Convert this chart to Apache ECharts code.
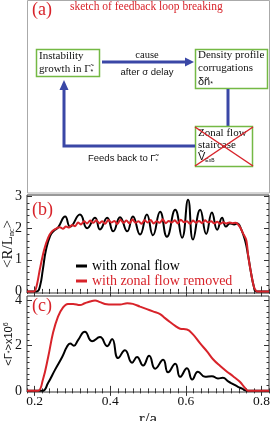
<!DOCTYPE html>
<html><head><meta charset="utf-8">
<script src="https://cdn.jsdelivr.net/npm/echarts@6/dist/echarts.min.js"></script>
<style>html,body{margin:0;padding:0;background:#fff}#c{width:271px;height:421px}</style>
</head><body><div id="c"></div>
<script>
// ---- data ----
const rBlackB = [0.180,0.206,0.214,0.222,0.230,0.241,0.251,0.262,0.281,0.294,0.320,0.339,0.360,0.373,0.392,0.408,0.426,0.445,0.460,0.479,0.497,0.513,0.532,0.550,0.572,0.590,0.606,0.619,0.638,0.654,0.669,0.683,0.696,0.706,0.717,0.728,0.736,0.746,0.757,0.765,0.772,0.780,0.786,0.820];
const vBlackB = [0,0,0.15,0.70,1.30,1.75,1.92,2.02,2.37,2.05,2.43,2.00,2.33,1.96,2.33,1.90,2.35,1.90,2.37,1.80,2.43,1.78,2.52,1.73,2.58,1.70,2.90,1.64,2.58,1.82,2.50,1.95,2.33,2.05,2.15,2.12,2.15,1.98,1.60,1.12,0.62,0.15,0,0];
const rRedB = [0.180,0.199,0.206,0.214,0.225,0.236,0.246,0.259,0.267,0.275,0.283,0.291,0.299,0.307,0.315,0.323,0.331,0.339,0.347,0.355,0.363,0.371,0.379,0.387,0.395,0.403,0.411,0.419,0.427,0.435,0.443,0.451,0.459,0.467,0.475,0.483,0.491,0.499,0.507,0.515,0.523,0.531,0.539,0.547,0.555,0.563,0.571,0.579,0.587,0.595,0.603,0.611,0.619,0.627,0.635,0.643,0.651,0.659,0.667,0.675,0.683,0.691,0.699,0.707,0.715,0.723,0.731,0.736,0.744,0.752,0.760,0.765,0.772,0.780,0.786,0.791,0.820];
const vRedB = [0,0,0.20,0.70,1.30,1.70,1.90,2.00,2.03,1.98,2.05,2.02,2.10,2.06,2.18,2.12,2.22,2.15,2.24,2.17,2.25,2.16,2.22,2.14,2.26,2.18,2.23,2.13,2.27,2.17,2.24,2.15,2.28,2.17,2.22,2.14,2.25,2.18,2.26,2.15,2.22,2.17,2.28,2.16,2.23,2.18,2.25,2.15,2.27,2.19,2.22,2.14,2.24,2.17,2.23,2.16,2.25,2.18,2.22,2.15,2.20,2.14,2.19,2.15,2.18,2.16,2.17,2.15,2.02,1.82,1.62,1.12,0.62,0.15,0.02,0,0];
const rBlackC = [0.180,0.220,0.236,0.254,0.273,0.286,0.294,0.304,0.315,0.333,0.352,0.373,0.392,0.405,0.421,0.439,0.458,0.471,0.487,0.503,0.519,0.540,0.553,0.572,0.585,0.603,0.617,0.632,0.651,0.669,0.685,0.698,0.712,0.725,0.738,0.749,0.757,0.765,0.820];
const vBlackC = [0,0,0.36,0.93,1.50,1.96,2.10,2.00,2.25,2.62,2.20,2.38,1.98,2.30,1.45,1.80,1.25,1.50,1.12,1.55,0.98,1.38,0.82,1.20,0.62,1.00,0.50,0.85,0.62,0.65,0.55,0.58,0.42,0.30,0.18,0.10,0.02,0,0];
const rRedC = [0.180,0.209,0.222,0.236,0.249,0.262,0.275,0.288,0.302,0.320,0.333,0.347,0.360,0.373,0.386,0.408,0.426,0.445,0.460,0.479,0.497,0.513,0.532,0.545,0.558,0.572,0.585,0.603,0.619,0.638,0.656,0.672,0.691,0.709,0.725,0.743,0.757,0.765,0.820];
const vRedC = [0,0,0.49,1.50,2.58,3.29,3.69,3.85,3.85,3.80,3.88,3.96,4.00,3.93,3.85,3.82,3.82,3.88,3.85,3.73,3.62,3.52,3.40,3.22,3.05,2.88,2.75,2.72,2.50,2.10,1.75,1.40,1.10,0.85,0.65,0.40,0.12,0,0];
const seriesNames = ['with zonal flow', 'with zonal flow removed'];
const xTicks = [0.2, 0.4, 0.6, 0.8];
const yTicksB = [0, 1, 2, 3];
const yTicksC = [0, 2, 4];

// ---- styling ----
const SERIF = '"Liberation Serif", "DejaVu Serif", serif';
const SANS = '"Liberation Sans", "DejaVu Sans", sans-serif';
const RED = '#d8232a', BLUE = '#3a47a6', GREEN = '#74b944', AX = '#333';

function range(a, b, step) { const out = []; for (let v = a; v <= b + 1e-9; v += step) out.push(+v.toFixed(4)); return out; }
const xMinor = range(0.18, 0.82, 0.02).filter(v => !xTicks.some(t => Math.abs(t - v) < 1e-6));
const yMinorB = range(0, 3, 0.2).filter(v => !yTicksB.some(t => Math.abs(t - v) < 1e-6));
const yMinorC = range(0, 4, 0.25).filter(v => !yTicksC.some(t => Math.abs(t - v) < 1e-6));

function zip(r, v) { const n = Math.min(r.length, v.length); const d = []; for (let i = 0; i < n; i++) d.push([r[i], v[i]]); return d; }

function xAx(grid, pos, ticks, len, label, extra) {
  return Object.assign({
    type: 'value', gridIndex: grid, position: pos, min: 0.18, max: 0.82,
    axisLine: { show: false }, splitLine: { show: false },
    axisTick: { show: true, inside: true, length: len, customValues: ticks, lineStyle: { color: AX, width: 1 } },
    axisLabel: label ? { show: true, customValues: ticks, margin: 2, formatter: v => v.toFixed(1), fontFamily: SERIF, fontSize: 13.5, color: '#111' } : { show: false }
  }, extra || {});
}
function yAx(grid, pos, ticks, len, label, min, max, extra) {
  return Object.assign({
    type: 'value', gridIndex: grid, position: pos, min: min, max: max,
    axisLine: { show: false }, splitLine: { show: false },
    axisTick: { show: true, inside: true, length: len, customValues: ticks, lineStyle: { color: AX, width: 1 } },
    axisLabel: label ? { show: true, customValues: ticks, margin: 5, formatter: v => String(v), fontFamily: SERIF, fontSize: 14, color: '#111' } : { show: false }
  }, extra || {});
}

const minB = -0.05, maxB = 3.05, minC = -0.05, maxC = 4.2;

const option = {
  animation: false,
  backgroundColor: '#fff',
  grid: [
    { left: 27, top: 195, width: 242, height: 98, outerBoundsMode: 'none', containLabel: false, show: true, borderColor: AX, borderWidth: 1, backgroundColor: 'transparent' },
    { left: 27, top: 296, width: 242, height: 96, outerBoundsMode: 'none', containLabel: false, show: true, borderColor: AX, borderWidth: 1, backgroundColor: 'transparent' }
  ],
  xAxis: [
    xAx(0, 'bottom', xTicks, 5, false),
    xAx(0, 'top', xTicks, 5, false),
    xAx(0, 'bottom', xMinor, 2.5, false),
    xAx(0, 'top', xMinor, 2.5, false),
    xAx(1, 'bottom', xTicks, 5, true, { name: 'r/a', nameLocation: 'middle', nameGap: 19, nameMoveOverlap: false, nameTextStyle: { fontFamily: SERIF, fontSize: 17, color: '#111' } }),
    xAx(1, 'top', xTicks, 5, false),
    xAx(1, 'bottom', xMinor, 2.5, false),
    xAx(1, 'top', xMinor, 2.5, false)
  ],
  yAxis: [
    yAx(0, 'left', yTicksB, 5, true, minB, maxB, {
      name: '<R/L{s|nc}>', nameLocation: 'middle', nameRotate: 90, nameGap: 11, nameMoveOverlap: false,
      nameTextStyle: { fontFamily: SERIF, fontSize: 15, color: '#111', rich: { s: { fontFamily: SERIF, fontSize: 8, lineHeight: 8, verticalAlign: 'bottom', color: '#111' } } }
    }),
    yAx(0, 'right', yTicksB, 5, false, minB, maxB),
    yAx(0, 'left', yMinorB, 2.5, false, minB, maxB),
    yAx(0, 'right', yMinorB, 2.5, false, minB, maxB),
    yAx(1, 'left', yTicksC, 5, true, minC, maxC, {
      name: '<Γ{s|*}>x10{p|6}', nameLocation: 'middle', nameRotate: 90, nameGap: 13, nameMoveOverlap: false,
      nameTextStyle: { fontFamily: SANS, fontSize: 11, color: '#111',
        rich: { s: { fontFamily: SANS, fontSize: 7, lineHeight: 7, verticalAlign: 'bottom', color: '#111' },
                p: { fontFamily: SANS, fontSize: 7, lineHeight: 7, verticalAlign: 'top', color: '#111' } } }
    }),
    yAx(1, 'right', yTicksC, 5, false, minC, maxC),
    yAx(1, 'left', yMinorC, 2.5, false, minC, maxC),
    yAx(1, 'right', yMinorC, 2.5, false, minC, maxC)
  ],
  legend: {
    orient: 'vertical', left: 76, top: 259, itemWidth: 11, itemHeight: 3, itemGap: 1, icon: 'rect',
    padding: 0, selectedMode: false,
    textStyle: { fontFamily: SERIF, fontSize: 14, lineHeight: 14 },
    data: [
      { name: seriesNames[0], textStyle: { color: '#000' } },
      { name: seriesNames[1], textStyle: { color: RED } }
    ]
  },
  series: [
    { name: seriesNames[0], type: 'line', xAxisIndex: 0, yAxisIndex: 0, data: zip(rBlackB, vBlackB), showSymbol: false, smooth: 0.5, color: '#000', lineStyle: { color: '#000', width: 2 } },
    { name: seriesNames[1], type: 'line', xAxisIndex: 0, yAxisIndex: 0, data: zip(rRedB, vRedB), showSymbol: false, smooth: 0.3, color: RED, lineStyle: { color: RED, width: 2 } },
    { name: seriesNames[0], type: 'line', xAxisIndex: 4, yAxisIndex: 4, data: zip(rBlackC, vBlackC), showSymbol: false, smooth: 0.5, color: '#000', lineStyle: { color: '#000', width: 2 } },
    { name: seriesNames[1], type: 'line', xAxisIndex: 4, yAxisIndex: 4, data: zip(rRedC, vRedC), showSymbol: false, smooth: 0.4, color: RED, lineStyle: { color: RED, width: 2 } }
  ],
  graphic: { elements: [
    { type: 'rect', shape: { x: 27.5, y: 0.5, width: 242, height: 192.5 }, style: { fill: 'none', stroke: '#aaa', lineWidth: 1 } },
    { type: 'text', x: 32, y: 10, style: { text: '(a)', font: '18px ' + SERIF, fill: RED, verticalAlign: 'middle' } },
    { type: 'text', x: 70, y: 7, style: { text: 'sketch of feedback loop breaking', font: '11.5px ' + SERIF, fill: RED, verticalAlign: 'middle' } },
    // box 1
    { type: 'rect', shape: { x: 36.5, y: 49.5, width: 63, height: 27 }, style: { fill: 'none', stroke: GREEN, lineWidth: 1.5 } },
    { type: 'text', x: 39, y: 50, style: { text: '{a|Instability}\n{a|growth in Γ̃}{s|*}', verticalAlign: 'top',
        rich: { a: { font: '11px ' + SERIF, lineHeight: 13, fill: '#111' }, s: { font: '7px ' + SANS, lineHeight: 7, verticalAlign: 'bottom', fill: '#111' } } } },
    // arrow cause
    { type: 'line', shape: { x1: 102, y1: 62, x2: 187, y2: 62 }, style: { stroke: BLUE, lineWidth: 3 } },
    { type: 'polygon', shape: { points: [[185, 57.5], [194, 62], [185, 66.5]] }, style: { fill: BLUE } },
    { type: 'text', x: 147, y: 55, style: { text: 'cause', font: '10.5px ' + SERIF, fill: '#111', align: 'center', verticalAlign: 'middle' } },
    { type: 'text', x: 147, y: 72, style: { text: 'after σ delay', font: '9.5px ' + SANS, fill: '#111', align: 'center', verticalAlign: 'middle' } },
    // box 2
    { type: 'rect', shape: { x: 195.5, y: 49.5, width: 72, height: 39 }, style: { fill: 'none', stroke: GREEN, lineWidth: 1.5 } },
    { type: 'text', x: 198, y: 49, style: { text: '{a|Density profile}\n{a|corrugations}\n{b|δñ}{s|*}', verticalAlign: 'top',
        rich: { a: { font: '11px ' + SERIF, lineHeight: 13, fill: '#111' }, b: { font: '11px ' + SANS, lineHeight: 13, fill: '#111' }, s: { font: '7px ' + SANS, lineHeight: 7, verticalAlign: 'bottom', fill: '#111' } } } },
    { type: 'line', shape: { x1: 228, y1: 89, x2: 228, y2: 126 }, style: { stroke: BLUE, lineWidth: 3 } },
    // box 3
    { type: 'rect', shape: { x: 195.5, y: 126.5, width: 57, height: 40 }, style: { fill: 'none', stroke: GREEN, lineWidth: 1.5 } },
    { type: 'text', x: 198, y: 127, style: { text: '{a|Zonal flow}\n{a|staircase}\n{b|Ṽ}{s|ExB}', verticalAlign: 'top',
        rich: { a: { font: '11px ' + SERIF, lineHeight: 12, fill: '#111' }, b: { font: '11px ' + SANS, lineHeight: 12, fill: '#111' }, s: { font: '5px ' + SANS, lineHeight: 5, verticalAlign: 'bottom', fill: '#111' } } } },
    { type: 'line', shape: { x1: 195, y1: 127, x2: 253, y2: 166 }, style: { stroke: RED, lineWidth: 1.5 } },
    { type: 'line', shape: { x1: 253, y1: 127, x2: 195, y2: 166 }, style: { stroke: RED, lineWidth: 1.5 } },
    // feedback
    { type: 'polyline', shape: { points: [[195, 146], [64, 146], [64, 88]] }, style: { stroke: BLUE, lineWidth: 3, fill: 'none' } },
    { type: 'polygon', shape: { points: [[59.5, 90], [64, 80], [68.5, 90]] }, style: { fill: BLUE } },
    { type: 'text', x: 88, y: 158, style: { text: '{a|Feeds back to Γ̃}{s|*}', verticalAlign: 'middle',
        rich: { a: { font: '9.5px ' + SANS, lineHeight: 12, fill: '#111' }, s: { font: '6px ' + SANS, lineHeight: 6, verticalAlign: 'bottom', fill: '#111' } } } },
    // panel labels
    { type: 'text', x: 32, y: 210, style: { text: '(b)', font: '18px ' + SERIF, fill: RED, verticalAlign: 'middle' } },
    { type: 'text', x: 32, y: 306, style: { text: '(c)', font: '18px ' + SERIF, fill: RED, verticalAlign: 'middle' } }
  ] }
};
const chart = echarts.init(document.getElementById('c'), null, { renderer: 'canvas' });
chart.setOption(option);
</script></body></html>
